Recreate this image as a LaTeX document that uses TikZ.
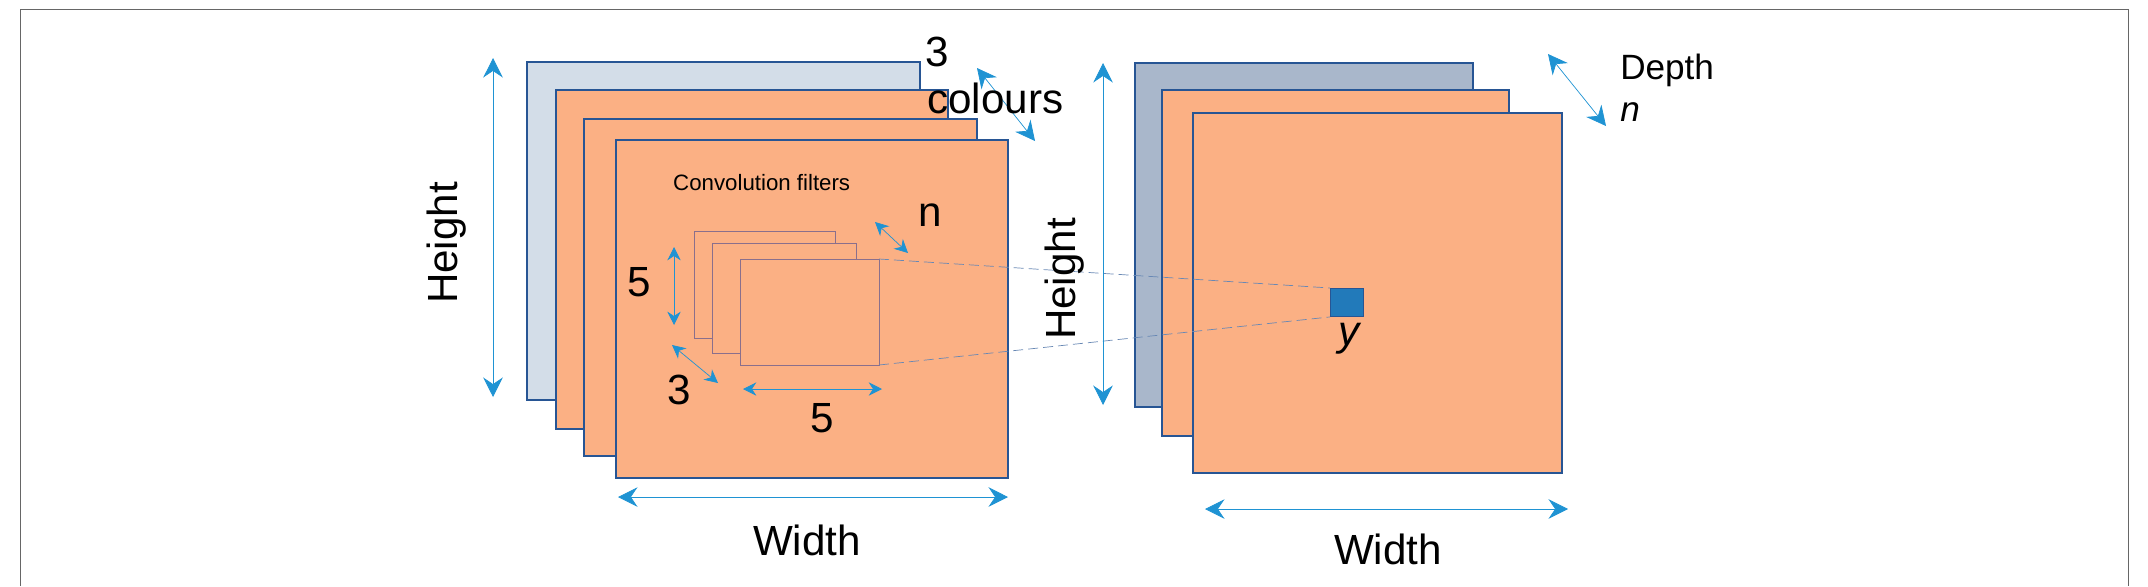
\documentclass[tikz,border=0pt]{standalone}
\usepackage{fontspec}
\setmainfont{Liberation Sans}
\usetikzlibrary{arrows.meta}
\definecolor{org}{HTML}{FBB084}
\definecolor{lgb}{HTML}{D3DDE8}
\definecolor{dgb}{HTML}{A9B7CB}
\definecolor{edg}{HTML}{275594}
\definecolor{arr}{HTML}{1F93D3}
\definecolor{fil}{HTML}{8A6F8C}
\begin{document}
\begin{tikzpicture}[x=0.3mm,y=-0.3mm,
  sheet/.style={draw=edg,line width=1.2mm*0.3},
  dim/.style={draw=arr,line width=0.6,{Stealth[length=6.5mm*0.3*3,width=6.5mm*0.3*3,inset=2.2mm*0.3*3]}-{Stealth[length=6.5mm*0.3*3,width=6.5mm*0.3*3,inset=2.2mm*0.3*3]}},
  sdim/.style={draw=arr,line width=0.6,{Stealth[length=4mm,width=4mm,inset=1.3mm]}-{Stealth[length=4mm,width=4mm,inset=1.3mm]}},
  filt/.style={draw=fil,line width=0.5},
  big/.style={font=\fontsize{36}{40}\selectfont},
  mid/.style={font=\fontsize{30}{34}\selectfont},
  sm/.style={font=\fontsize{19}{22}\selectfont},
  link/.style={draw=edg!70,dashed,line width=0.6,dash pattern=on 3mm off 1.5mm}]
\useasboundingbox (0,0) rectangle (2148,586);
\draw[gray!80!black,line width=0.6] (20,586) -- (20,9) -- (2128,9) -- (2128,586);
% left stack
\draw[sheet,fill=lgb] (527,62) rectangle (920,400);
\draw[sheet,fill=org] (556,90) rectangle (948,429);
\draw[sheet,fill=org] (584,119) rectangle (977,456);
\draw[sheet,fill=org] (616,140) rectangle (1008,478);
% right stack
\draw[sheet,fill=dgb] (1135,63) rectangle (1473,407);
\draw[sheet,fill=org] (1162,90) rectangle (1509,436);
\draw[sheet,fill=org] (1193,113) rectangle (1562,473);
% filters
\draw[filt,fill=org] (694,231) rectangle (835,338);
\draw[filt,fill=org] (712,243) rectangle (856,353);
\draw[filt,fill=org] (740,259) coordinate (f3nw) rectangle (879,365) coordinate (f3se);
\coordinate (f3ne) at (879,259); \coordinate (f3se2) at (879,365);
\node[draw=edg,fill=arr!60!edg,line width=0.8,minimum width=33*0.3mm,minimum height=28*0.3mm,inner sep=0,anchor=north west] (sq) at (1330,288) {};
\draw[link] (f3ne) -- (sq.north west);
\draw[link] (f3se2) -- (sq.south west);
\node[big,anchor=north,inner sep=0] (ylab) at (1349,323) {\itshape y};
% arrows left
\coordinate (lh1) at (493,58); \coordinate (lh2) at (493,397);
\draw[dim] (lh1) -- (lh2);
\node[big,rotate=90] (lht) at (447,243) {Height};
\coordinate (lw1) at (618,497); \coordinate (lw2) at (1008,497);
\draw[dim] (lw1) -- (lw2);
\node[big] (lwt) at (807,540) {Width};
\coordinate (c1) at (977,68); \coordinate (c2) at (1035,141);
\draw[dim] (c1) -- (c2);
\node[big,anchor=west,inner sep=0] (three) at (925,52) {3};
\node[big,anchor=west,inner sep=0] (col) at (927,98) {colours};
\node[sm,anchor=west,inner sep=0] (conv) at (673,183) {Convolution filters};
\coordinate (n1) at (875,222); \coordinate (n2) at (908,253);
\draw[sdim] (n1) -- (n2);
\node[big] (nlab) at (930,215) {n};
\coordinate (v1) at (674,247); \coordinate (v2) at (674,325);
\draw[sdim] (v1) -- (v2);
\node[big] (five1) at (639,282) {5};
\coordinate (t1) at (672,345); \coordinate (t2) at (718,383);
\draw[sdim] (t1) -- (t2);
\node[big] (three2) at (679,390) {3};
\coordinate (w1) at (743,389); \coordinate (w2) at (882,389);
\draw[sdim] (w1) -- (w2);
\node[big] (five2) at (822,418) {5};
% arrows right
\coordinate (rh1) at (1103,63); \coordinate (rh2) at (1103,405);
\draw[dim] (rh1) -- (rh2);
\node[big,rotate=90] (rht) at (1065,279) {Height};
\coordinate (rw1) at (1205,509); \coordinate (rw2) at (1568,509);
\draw[dim] (rw1) -- (rw2);
\node[big] (rwt) at (1388,549) {Width};
\coordinate (d1) at (1548,54); \coordinate (d2) at (1606,126);
\draw[dim] (d1) -- (d2);
\node[mid,anchor=west,inner sep=0] (depth) at (1620,70) {Depth};
\node[mid,anchor=west,inner sep=0] (dn) at (1620,112) {\itshape n};
\end{tikzpicture}
\end{document}
